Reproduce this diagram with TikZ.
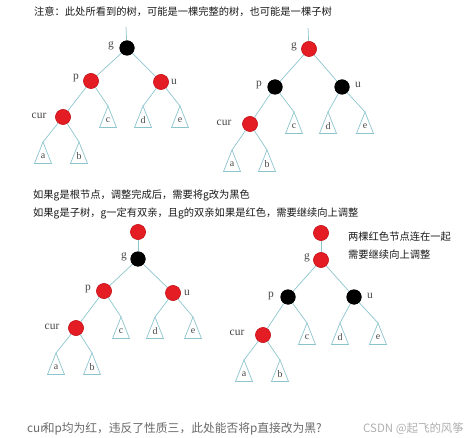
\documentclass[tikz,border=0pt]{standalone}
\usepackage{fontspec}
\setmainfont{Liberation Serif}
\newfontfamily\cjk{Noto Sans CJK SC}
\definecolor{linec}{RGB}{140,196,206}
\definecolor{nodered}{RGB}{228,28,36}
\definecolor{labelc}{RGB}{70,70,70}
\definecolor{textc}{RGB}{25,25,25}
\definecolor{botc}{RGB}{105,105,105}
\definecolor{wmc}{RGB}{175,175,175}
\newcommand\subt[4]{%
  \coordinate (#1) at (#2,#3);
  \draw[tri] (#1) -- ++(-8.5,21.5) -- ++(17,0) -- cycle;
  \node[trilbl] (#1l) at (#2,#3+14.5) {#4};
}
\begin{document}
\begin{tikzpicture}[x=1bp,y=-1bp,
  edge/.style={draw=linec, line width=0.7bp},
  tri/.style={draw=linec, line width=0.7bp},
  rn/.style={circle, fill=nodered, draw=nodered!85!black, line width=0.4bp, minimum size=15bp, inner sep=0},
  bn/.style={circle, fill=black, minimum size=15bp, inner sep=0},
  lbl/.style={font=\fontsize{11.5}{12}\selectfont, text=labelc, inner sep=0},
  trilbl/.style={font=\fontsize{10}{10}\selectfont, text=labelc, inner sep=0},
  cn/.style={font=\cjk\fontsize{10.3}{12}\selectfont, text=textc, inner sep=0, anchor=west},
]
\useasboundingbox (0,0) rectangle (474,438);

% ---------- texts ----------
\node[cn] (t1) at (34,12) {注意：此处所看到的树，可能是一棵完整的树，也可能是一棵子树};
\node[cn] (t2) at (33,195) {如果g是根节点，调整完成后，需要将g改为黑色};
\node[cn] (t3) at (33,213) {如果g是子树，g一定有双亲，且g的双亲如果是红色，需要继续向上调整};
\node[cn] (t4) at (348,237) {两棵红色节点连在一起};
\node[cn] (t5) at (348,255) {需要继续向上调整};
\node[cn, font=\cjk\fontsize{11.8}{13}\selectfont, text=botc] (t6) at (27,429) {cur\kern-2bp 和p均为红，违反了性质三，此处能否将p直接改为黑?};
\node[cn, font=\cjk\fontsize{11.5}{13}\selectfont, text=wmc] (t7) at (363,429) {CSDN @起飞的风筝};

% ---------- tree top-left ----------
\coordinate (A0) at (126,27);
\node[bn] (Ag) at (127,48) {};
\node[rn] (Ap) at (91,81) {};
\node[rn] (Au) at (161,82) {};
\node[rn] (Acur) at (63,117) {};
\subt{Ac}{108}{106}{c}
\subt{Ad}{143}{106}{d}
\subt{Ae}{180}{106}{e}
\subt{Aa}{43}{142}{a}
\subt{Ab}{79}{142}{b}
\draw[edge] (A0) -- (Ag);
\draw[edge] (Ag) -- (Ap);
\draw[edge] (Ag) -- (Au);
\draw[edge] (Ap) -- (Acur);
\draw[edge] (Ap.center) -- (Ac);
\draw[edge] (Au.center) -- (Ad);
\draw[edge] (Au.center) -- (Ae);
\draw[edge] (Acur.center) -- (Aa);
\draw[edge] (Acur.center) -- (Ab);
\node[bn] at (Ag) {};
\node[rn] at (Ap) {};
\node[rn] at (Au) {};
\node[rn] at (Acur) {};
\node[lbl] (Agl) at (111,46) {g};
\node[lbl] (Apl) at (76,78) {p};
\node[lbl] (Aul) at (174,82) {u};
\node[lbl] (Acurl) at (39,116) {cur};

% ---------- tree top-right ----------
\coordinate (B0) at (308,28);
\node[rn] (Bg) at (309,49) {};
\node[bn] (Bp) at (275,87) {};
\node[bn] (Bu) at (342,87) {};
\node[rn] (Bcur) at (250,124) {};
\subt{Bc}{294}{112}{c}
\subt{Bd}{328}{112}{d}
\subt{Be}{365}{112}{e}
\subt{Ba}{232}{150}{a}
\subt{Bb}{267}{150}{b}
\draw[edge] (B0) -- (Bg);
\draw[edge] (Bg) -- (Bp);
\draw[edge] (Bg) -- (Bu);
\draw[edge] (Bp) -- (Bcur);
\draw[edge] (Bp.center) -- (Bc);
\draw[edge] (Bu.center) -- (Bd);
\draw[edge] (Bu.center) -- (Be);
\draw[edge] (Bcur.center) -- (Ba);
\draw[edge] (Bcur.center) -- (Bb);
\node[rn] at (Bg) {};
\node[bn] at (Bp) {};
\node[bn] at (Bu) {};
\node[rn] at (Bcur) {};
\node[lbl] (Bgl) at (294,47) {g};
\node[lbl] (Bpl) at (259,85) {p};
\node[lbl] (Bul) at (358,85) {u};
\node[lbl] (Bcurl) at (224,123) {cur};

% ---------- tree bottom-left ----------
\node[rn] (Ct) at (138,232) {};
\node[bn] (Cg) at (138,259) {};
\node[rn] (Cp) at (104,291) {};
\node[rn] (Cu) at (173,293) {};
\node[rn] (Ccur) at (76,328) {};
\subt{Cc}{121}{317}{c}
\subt{Cd}{155}{317}{d}
\subt{Ce}{193}{317}{e}
\subt{Ca}{56}{353}{a}
\subt{Cb}{92}{353}{b}
\draw[edge] (Ct) -- (Cg);
\draw[edge] (Cg) -- (Cp);
\draw[edge] (Cg) -- (Cu);
\draw[edge] (Cp) -- (Ccur);
\draw[edge] (Cp.center) -- (Cc);
\draw[edge] (Cu.center) -- (Cd);
\draw[edge] (Cu.center) -- (Ce);
\draw[edge] (Ccur.center) -- (Ca);
\draw[edge] (Ccur.center) -- (Cb);
\node[rn] at (Ct) {};
\node[bn] at (Cg) {};
\node[rn] at (Cp) {};
\node[rn] at (Cu) {};
\node[rn] at (Ccur) {};
\node[lbl] (Cgl) at (124,257) {g};
\node[lbl] (Cpl) at (88,289) {p};
\node[lbl] (Cul) at (187,293) {u};
\node[lbl] (Ccurl) at (52,327) {cur};

% ---------- tree bottom-right ----------
\node[rn] (Dt) at (321,233) {};
\node[rn] (Dg) at (321,260) {};
\node[bn] (Dp) at (288,297) {};
\node[bn] (Du) at (354,297) {};
\node[rn] (Dcur) at (263,335) {};
\subt{Dc}{307}{323}{c}
\subt{Dd}{340}{323}{d}
\subt{De}{378}{323}{e}
\subt{Da}{244}{360}{a}
\subt{Db}{280}{360}{b}
\draw[edge] (Dt) -- (Dg);
\draw[edge] (Dg) -- (Dp);
\draw[edge] (Dg) -- (Du);
\draw[edge] (Dp) -- (Dcur);
\draw[edge] (Dp.center) -- (Dc);
\draw[edge] (Du.center) -- (Dd);
\draw[edge] (Du.center) -- (De);
\draw[edge] (Dcur.center) -- (Da);
\draw[edge] (Dcur.center) -- (Db);
\node[rn] at (Dt) {};
\node[rn] at (Dg) {};
\node[bn] at (Dp) {};
\node[bn] at (Du) {};
\node[rn] at (Dcur) {};
\node[lbl] (Dgl) at (307,258) {g};
\node[lbl] (Dpl) at (271,296) {p};
\node[lbl] (Dul) at (370,296) {u};
\node[lbl] (Dcurl) at (237,333) {cur};
\end{tikzpicture}
\end{document}
